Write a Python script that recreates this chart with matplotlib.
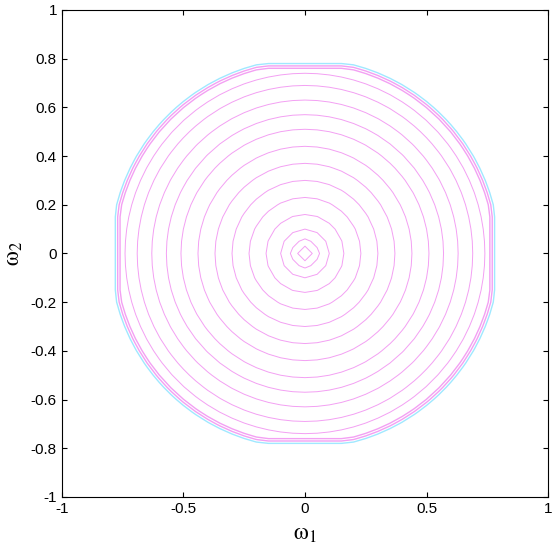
import numpy as np
import matplotlib.pyplot as plt

plt.rcParams["mathtext.fontset"] = "stix"

# grid of normalized frequencies (coarse, like a sampled filter response)
w_axis = np.linspace(-1, 1, 41)
# contour radii (inner -> outer)
levels = [0.03, 0.06, 0.10, 0.16, 0.23, 0.30, 0.37, 0.44, 0.51, 0.57, 0.63, 0.69, 0.74]
outer_levels = [0.78, 0.79, 0.80]
ticks = [-1, -0.8, -0.6, -0.4, -0.2, 0, 0.2, 0.4, 0.6, 0.8, 1]
xticks = [-1, -0.5, 0, 0.5, 1]

W1, W2 = np.meshgrid(w_axis, w_axis)
R = np.sqrt(W1 ** 2 + W2 ** 2)
# passband edge is flattened where |w| reaches 0.8 on either axis
R_edge = np.maximum(R, np.maximum(np.abs(W1), np.abs(W2)) * 0.80 / 0.78)

fig = plt.figure(figsize=(5.57, 5.54), dpi=100)
ax = fig.add_axes([0.111, 0.103, 0.873, 0.879])
ax.contour(W1, W2, R, levels=levels, colors="#f3a0f3", linewidths=0.7)
ax.contour(W1, W2, R_edge, levels=outer_levels,
           colors=["#f3a0f3", "#f3a0f3", "#a0e8ff"], linewidths=1.0)

ax.set_xlim(-1, 1)
ax.set_ylim(-1, 1)
ax.set_xticks(xticks)
ax.set_xticklabels(["-1", "-0.5", "0", "0.5", "1"])
ax.set_yticks(ticks)
ax.set_yticklabels(["-1", "-0.8", "-0.6", "-0.4", "-0.2", "0", "0.2", "0.4", "0.6", "0.8", "1"])
ax.tick_params(direction="in", labelsize=11, top=True, right=True)
for lab in ax.get_xticklabels() + ax.get_yticklabels():
    lab.set_family("Liberation Sans")
ax.set_xlabel(r"$\mathrm{\omega_1}$", fontsize=17)
ax.set_ylabel(r"$\mathrm{\omega_2}$", fontsize=17)

fig.savefig("out.png", dpi=100)
